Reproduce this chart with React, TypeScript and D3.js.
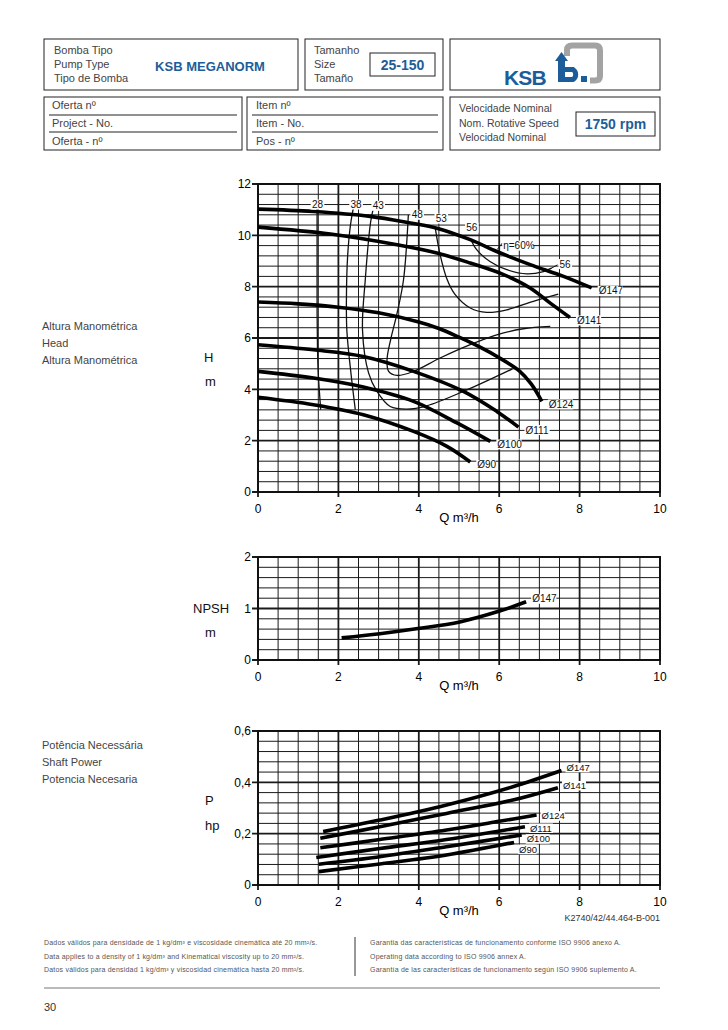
import * as d3 from 'd3';

// ---- data ----
const qTicks = [0, 2, 4, 6, 8, 10];
const headTicks = [0, 2, 4, 6, 8, 10, 12];
const npshTicks = [0, 1, 2];
const powerTicks = [0, 0.2, 0.4, 0.6];
const diameters = ['Ø147', 'Ø141', 'Ø124', 'Ø111', 'Ø100', 'Ø90'];

type Pt = [number, number];

// H (m) vs Q (m³/h)
const head147: Pt[] = [[0, 11.02], [1.38, 10.93], [2.79, 10.74], [3.79, 10.48], [4.45, 10.28], [5.28, 9.83], [5.94, 9.37], [6.77, 8.86], [7.6, 8.4], [8.3, 7.95]];
const head141: Pt[] = [[0, 10.32], [1.8, 10.05], [3.46, 9.63], [4.45, 9.31], [5.28, 8.92], [6.11, 8.47], [6.77, 7.95], [7.27, 7.36], [7.76, 6.8]];
const head124: Pt[] = [[0, 7.4], [1, 7.33], [2, 7.2], [3, 6.98], [4, 6.62], [4.5, 6.37], [5, 6.03], [5.5, 5.66], [6, 5.23], [6.5, 4.72], [6.8, 4.2], [7.06, 3.53]];
const head111: Pt[] = [[0, 5.74], [1.38, 5.54], [2.62, 5.28], [3.87, 4.7], [5.11, 3.92], [5.94, 3.14], [6.48, 2.53]];
const head100: Pt[] = [[0, 4.7], [1.38, 4.44], [2.62, 4.09], [3.87, 3.53], [4.95, 2.69], [5.78, 1.97]];
const head90: Pt[] = [[0, 3.69], [1.38, 3.4], [2.62, 3.01], [3.87, 2.36], [4.7, 1.78], [5.28, 1.17]];
const headCurves = [head147, head141, head124, head111, head100, head90];

// iso-efficiency lines (%)
const eff28: Pt[] = [[1.47, 11.06], [1.47, 9.0], [1.47, 7.0], [1.48, 5.6], [1.5, 4.6], [1.56, 3.21]];
const eff38: Pt[] = [[2.38, 11.13], [2.3, 10.4], [2.23, 9.2], [2.2, 7.6], [2.21, 6.3], [2.3, 4.8], [2.42, 3.21]];
const eff43: Pt[] = [[2.87, 11.06], [2.8, 10.5], [2.67, 8.3], [2.6, 6.3], [2.75, 4.64], [2.96, 3.92], [3.29, 3.33], [3.7, 3.23], [4.2, 3.36], [5.11, 3.92], [6.33, 4.8]];
const eff48: Pt[] = [[3.74, 10.8], [3.62, 8.27], [3.46, 6.97], [3.3, 5.94], [3.21, 5.15], [3.25, 4.7], [3.46, 4.54], [3.87, 4.7], [4.53, 5.22], [5.28, 5.74], [6.0, 6.15], [6.6, 6.36], [7.27, 6.45]];
const eff53: Pt[] = [[4.41, 10.28], [4.53, 9.25], [4.7, 8.3], [4.9, 7.7], [5.28, 7.17], [5.69, 7.0], [6.19, 7.1], [6.85, 7.43], [7.47, 7.71]];
const eff56: Pt[] = [[5.28, 9.89], [5.44, 9.44], [5.77, 8.98], [6.19, 8.66], [6.69, 8.5], [7.1, 8.59], [7.31, 8.73]];
const effCurves = [eff28, eff38, eff43, eff48, eff53, eff56];
const effLabels = ['28', '38', '43', '48', '53', '56'];
const effLabelAt: Pt[] = [[1.48, 11.2], [2.44, 11.2], [2.99, 11.15], [3.96, 10.8], [4.56, 10.65], [5.32, 10.3]];

// NPSH (m)
const npsh147: Pt[] = [[2.08, 0.43], [3.03, 0.51], [3.98, 0.61], [5.02, 0.74], [6.01, 0.95], [6.67, 1.13]];

// shaft power (hp)
const power147: Pt[] = [[1.62, 0.208], [3.03, 0.253], [4.69, 0.312], [6.34, 0.383], [7.55, 0.446]];
const power141: Pt[] = [[1.55, 0.182], [3.03, 0.227], [4.69, 0.279], [6.34, 0.331], [7.46, 0.379]];
const power124: Pt[] = [[1.55, 0.145], [3.03, 0.177], [4.69, 0.214], [6.0, 0.248], [6.93, 0.273]];
const power111: Pt[] = [[1.45, 0.107], [3.03, 0.142], [4.69, 0.177], [6.64, 0.227]];
const power100: Pt[] = [[1.51, 0.081], [3.03, 0.11], [4.69, 0.149], [6.56, 0.195]];
const power90: Pt[] = [[1.51, 0.052], [3.03, 0.082], [4.69, 0.117], [6.37, 0.166]];
const powerCurves = [power147, power141, power124, power111, power100, power90];

const FONT = "'Liberation Sans', Arial, sans-serif";
const BLUE = '#1c5d99';
const GREY = '#444';

const x = d3.scaleLinear().domain([0, 10]).range([258, 660]);
const yHead = d3.scaleLinear().domain([0, 12]).range([492, 184]);
const yNpsh = d3.scaleLinear().domain([0, 2]).range([660, 557]);
const yPower = d3.scaleLinear().domain([0, 0.6]).range([885, 731]);

function curvePath(y: d3.ScaleLinear<number, number>, pts: Pt[]) {
  return d3.line<Pt>()
    .x(d => x(d[0]))
    .y(d => y(d[1]))
    .curve(d3.curveCatmullRom.alpha(0.5))(pts) || '';
}

function Label({ px, py, text, anchor = 'start', size = 10 }: { px: number; py: number; text: string; anchor?: string; size?: number }) {
  const w = text.length * size * 0.58 + 2;
  const left = anchor === 'middle' ? px - w / 2 : px - 1;
  return (
    <g>
      <rect x={left} y={py - size * 0.5} width={w} height={size} fill="#fff" />
      <text x={px} y={py} dy="0.35em" textAnchor={anchor as any} fontSize={size} fontFamily={FONT} fill="#111">{text}</text>
    </g>
  );
}

function Grid({ y, yMax, yStep, yTickVals, fmt }: { y: d3.ScaleLinear<number, number>; yMax: number; yStep: number; yTickVals: number[]; fmt: (v: number) => string }) {
  const xs = d3.range(0, 10.001, 0.5);
  const ys = d3.range(0, yMax + yStep / 2, yStep);
  const [y0, y1] = y.range();
  return (
    <g>
      {xs.map(v => {
        const major = Math.abs(v % 2) < 1e-6;
        return <line key={'v' + v} x1={x(v)} x2={x(v)} y1={y1} y2={major ? y0 + 5 : y0} stroke="#1a1a1a" strokeWidth={major ? 1.8 : 1} />;
      })}
      {ys.map(v => {
        const major = yTickVals.some(t => Math.abs(t - v) < 1e-6);
        return <line key={'h' + v} x1={major ? x(0) - 6 : x(0)} x2={x(10)} y1={y(v)} y2={y(v)} stroke="#1a1a1a" strokeWidth={major ? 1.8 : 1} />;
      })}
      <rect x={x(0)} y={y1} width={x(10) - x(0)} height={y0 - y1} fill="none" stroke="#111" strokeWidth={2} />
      {yTickVals.map(v => (
        <text key={'yt' + v} x={x(0) - 7} y={y(v)} dy="0.35em" textAnchor="end" fontSize={12} fontFamily={FONT} fill="#000">{fmt(v)}</text>
      ))}
      {qTicks.map(v => (
        <text key={'xt' + v} x={x(v)} y={y0 + 17} dy="0.35em" textAnchor="middle" fontSize={12} fontFamily={FONT} fill="#000">{v}</text>
      ))}
      <text x={459} y={y0 + 25} dy="0.35em" textAnchor="middle" fontSize={13} fontFamily={FONT} fill="#000">Q m³/h</text>
    </g>
  );
}

function Header() {
  const t = (tx: number, ty: number, s: string, size = 11) => (
    <text x={tx} y={ty} fontSize={size} fontFamily={FONT} fill={GREY}>{s}</text>
  );
  return (
    <g>
      <rect x={44} y={39} width={254} height={51} fill="none" stroke="#222" strokeWidth={1} />
      {t(54, 54, 'Bomba Tipo')}
      {t(54, 68, 'Pump Type')}
      {t(54, 82, 'Tipo de Bomba')}
      <text x={210} y={71} textAnchor="middle" fontSize={13} fontWeight="bold" fontFamily={FONT} fill={BLUE}>KSB MEGANORM</text>

      <rect x={305} y={39} width={138} height={51} fill="none" stroke="#222" strokeWidth={1} />
      {t(314, 54, 'Tamanho')}
      {t(314, 68, 'Size')}
      {t(314, 82, 'Tamaño')}
      <rect x={370} y={53} width={65} height={23} fill="none" stroke="#222" strokeWidth={1} />
      <text x={402.5} y={70} textAnchor="middle" fontSize={14} fontWeight="bold" fontFamily={FONT} fill={BLUE}>25-150</text>

      <rect x={450} y={39} width={210} height={51} fill="none" stroke="#222" strokeWidth={1} />
      <text x={504} y={85} fontSize={21} fontWeight="bold" fontFamily={FONT} fill={BLUE} letterSpacing={-0.8}>KSB</text>
      <path d="M 567 56 V 50 Q 567 45.5 572 45.5 H 595 Q 600 45.5 600 50.5 V 76 Q 600 80.5 595 80.5 H 590" fill="none" stroke="#a3a3a3" strokeWidth={6} />
      <rect x={558} y={59} width={7} height={23} fill={BLUE} />
      <path d="M 555 61 L 561.5 52 L 568 61 Z" fill={BLUE} />
      <path d="M 564 69.5 H 573 A 6 6 0 0 1 573 79.5 H 564" fill="none" stroke={BLUE} strokeWidth={5} />
      <rect x={581} y={76} width={6} height={6} fill={BLUE} />

      <rect x={44} y={97} width={198} height={53} fill="none" stroke="#222" strokeWidth={1} />
      {t(52, 109, 'Oferta nº')}
      <line x1={49} x2={237} y1={115} y2={115} stroke="#222" />
      {t(52, 127, 'Project - No.')}
      <line x1={49} x2={237} y1={132} y2={132} stroke="#222" />
      {t(52, 145, 'Oferta - nº')}

      <rect x={247} y={97} width={196} height={53} fill="none" stroke="#222" strokeWidth={1} />
      {t(256, 109, 'Item nº')}
      <line x1={252} x2={438} y1={115} y2={115} stroke="#222" />
      {t(256, 127, 'Item - No.')}
      <line x1={252} x2={438} y1={132} y2={132} stroke="#222" />
      {t(256, 145, 'Pos - nº')}

      <rect x={450} y={97} width={210} height={53} fill="none" stroke="#222" strokeWidth={1} />
      {t(459, 112, 'Velocidade Nominal', 10.5)}
      {t(459, 127, 'Nom. Rotative Speed', 10.5)}
      {t(459, 141, 'Velocidad Nominal', 10.5)}
      <rect x={576} y={112} width={79} height={24} fill="none" stroke="#222" strokeWidth={1} />
      <text x={615.5} y={129} textAnchor="middle" fontSize={14} fontWeight="bold" fontFamily={FONT} fill={BLUE}>1750 rpm</text>
    </g>
  );
}

const powerLabelShift = [-3, -2, 1, 1.5, 4, 7];

export default function App() {
  const side = (tx: number, ty: number, s: string) => (
    <text x={tx} y={ty} fontSize={11} fontFamily={FONT} fill={GREY}>{s}</text>
  );
  const axisTitle = (tx: number, ty: number, s: string) => (
    <text x={tx} y={ty} fontSize={13} fontFamily={FONT} fill="#111">{s}</text>
  );
  const foot = (tx: number, ty: number, s: string) => (
    <text x={tx} y={ty} fontSize={7} letterSpacing={0.2} fontFamily={FONT} fill="#555">{s}</text>
  );
  return (
    <svg width={728} height={1030} style={{ position: 'absolute', left: 0, top: 0, background: '#fff' }}>
      <Header />

      {/* head chart */}
      {side(42, 330, 'Altura Manométrica')}
      {side(42, 347, 'Head')}
      {side(42, 364, 'Altura Manométrica')}
      {axisTitle(204, 362, 'H')}
      {axisTitle(205, 386, 'm')}
      <Grid y={yHead} yMax={12} yStep={0.4} yTickVals={headTicks} fmt={v => String(v)} />
      {effCurves.map((c, i) => (
        <path key={'e' + i} d={curvePath(yHead, c)} fill="none" stroke="#111" strokeWidth={1.3} />
      ))}
      {headCurves.map((c, i) => (
        <path key={'h' + i} d={curvePath(yHead, c)} fill="none" stroke="#000" strokeWidth={3.6} />
      ))}
      {effLabels.map((s, i) => (
        <Label key={'el' + i} px={x(effLabelAt[i][0])} py={yHead(effLabelAt[i][1])} text={s} anchor="middle" />
      ))}
      <line x1={x(5.95)} y1={yHead(9.45)} x2={x(6.08)} y2={yHead(9.7)} stroke="#111" strokeWidth={1} />
      <Label px={x(6.1)} py={yHead(9.6)} text="η=60%" />
      <line x1={x(7.31)} y1={yHead(8.73)} x2={x(7.45)} y2={yHead(8.85)} stroke="#111" strokeWidth={1} />
      <Label px={x(7.5)} py={yHead(8.88)} text="56" />
      {headCurves.map((c, i) => {
        const e = c[c.length - 1];
        return <Label key={'hl' + i} px={x(e[0]) + 7} py={yHead(e[1]) + 3} text={diameters[i]} />;
      })}

      {/* NPSH chart */}
      {axisTitle(193, 613, 'NPSH')}
      {axisTitle(205, 637, 'm')}
      <Grid y={yNpsh} yMax={2} yStep={0.2} yTickVals={npshTicks} fmt={v => String(v)} />
      <path d={curvePath(yNpsh, npsh147)} fill="none" stroke="#000" strokeWidth={3.6} />
      <Label px={x(npsh147[npsh147.length - 1][0]) + 6} py={yNpsh(npsh147[npsh147.length - 1][1]) - 3} text="Ø147" />

      {/* power chart */}
      {side(42, 749, 'Potência Necessária')}
      {side(42, 766, 'Shaft Power')}
      {side(42, 783, 'Potencia Necesaria')}
      {axisTitle(205, 805, 'P')}
      {axisTitle(205, 830, 'hp')}
      <Grid y={yPower} yMax={0.6} yStep={0.04} yTickVals={powerTicks} fmt={v => (v === 0 ? '0' : v.toFixed(1).replace('.', ','))} />
      {powerCurves.map((c, i) => (
        <path key={'p' + i} d={curvePath(yPower, c)} fill="none" stroke="#000" strokeWidth={3.6} />
      ))}
      {powerCurves.map((c, i) => {
        const e = c[c.length - 1];
        return <Label key={'pl' + i} px={x(e[0]) + 5} py={yPower(e[1]) + powerLabelShift[i]} text={diameters[i]} size={9.5} />;
      })}
      <text x={660} y={921} textAnchor="end" fontSize={9} fontFamily={FONT} fill="#333">K2740/42/44.464-B-001</text>

      {/* footer */}
      {foot(44, 945, 'Dados válidos para densidade de 1 kg/dm³ e viscosidade cinemática até 20 mm²/s.')}
      {foot(44, 959, 'Data applies to a density of 1 kg/dm³ and Kinematical viscosity up to 20 mm²/s.')}
      {foot(44, 972, 'Datos válidos para densidad 1 kg/dm³ y viscosidad cinemática hasta 20 mm²/s.')}
      <line x1={355} x2={355} y1={937} y2={976} stroke="#333" strokeWidth={1} />
      {foot(370, 945, 'Garantia das características de funcionamento conforme ISO 9906 anexo A.')}
      {foot(370, 959, 'Operating data according to ISO 9906 annex A.')}
      {foot(370, 972, 'Garantía de las características de funcionamento según ISO 9906 suplemento A.')}
      <line x1={44} x2={660} y1={988} y2={988} stroke="#777" strokeWidth={1} />
      <text x={44} y={1011} fontSize={11} fontFamily={FONT} fill="#333">30</text>
    </svg>
  );
}
